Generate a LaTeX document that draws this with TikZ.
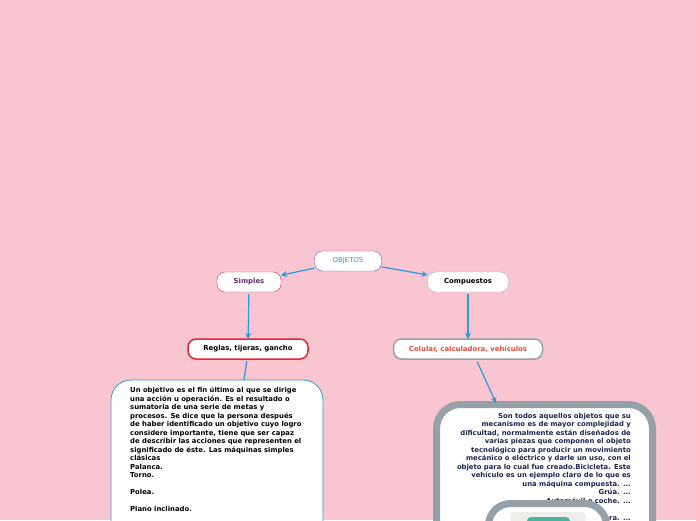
\documentclass[tikz,border=0pt]{standalone}
\usepackage{fontspec}
\setmainfont{DejaVu Sans}
\usepackage{xcolor}
\usetikzlibrary{positioning, arrows.meta}

\definecolor{bgpink}{RGB}{249,197,209}
\definecolor{linkblue}{RGB}{41,152,222}
\definecolor{objpurple}{RGB}{142,68,173}
\definecolor{objblue}{RGB}{52,152,219}
\definecolor{simpred}{RGB}{192,57,72}
\definecolor{simpurple}{RGB}{104,44,120}
\definecolor{compgray}{RGB}{165,174,182}
\definecolor{framegray}{RGB}{149,160,168}
\definecolor{reglared}{RGB}{232,35,50}
\definecolor{celred}{RGB}{231,76,60}
\definecolor{textnavy}{RGB}{28,38,80}
\definecolor{imggray}{RGB}{238,238,235}
\definecolor{imgteal}{RGB}{82,178,160}

\begin{document}
\begin{tikzpicture}[x=1pt, y=-1pt,
    topic/.style={draw, fill=white, rounded corners=8pt, minimum height=20pt, inner sep=0pt, outer sep=0pt,
        font=\fontsize{6.9}{8}\selectfont\bfseries},
    link/.style={draw=linkblue, line width=1.2pt, -{Stealth[length=6pt, width=6pt]}},
    textblock/.style={font=\fontsize{6.85}{8.5}\selectfont\bfseries, inner sep=0pt}
]
    % page
    \fill[bgpink] (0,0) rectangle (696,520);
    \clip (0,0) rectangle (696,520);

    % topics
    \node[topic, draw=objpurple, text=objblue, font=\fontsize{6.9}{8}\selectfont, minimum width=67pt] (objetos) at (348,261) {OBJETOS};
    \node[topic, draw=simpred, text=simpurple, minimum width=64pt] (simples) at (249,282) {Simples};
    \node[topic, draw=compgray, minimum width=81pt] (compuestos) at (468,282) {Compuestos};
    \node[topic, draw=reglared, line width=1.5pt, minimum width=120pt] (reglas) at (248,349) {Reglas, tijeras, gancho};
    \node[topic, draw=framegray, line width=1.5pt, text=celred, minimum width=149pt] (celular) at (468,349) {Celular, calculadora, vehículos};

    % Simples text box
    \node[draw=objblue, fill=white, line width=0.8pt, rounded corners=20pt, minimum width=212pt, minimum height=180pt,
        anchor=north west, outer sep=0pt] (simbox) at (111,380) {};
    \node[textblock, align=left, anchor=north west] (simtext) at (130,387) {Un objetivo es el fin último al que se dirige\\
        una acción u operación. Es el resultado o\\
        sumatoria de una serie de metas y\\
        procesos. Se dice que la persona después\\
        de haber identificado un objetivo cuyo logro\\
        considere importante, tiene que ser capaz\\
        de describir las acciones que representen el\\
        significado de éste. Las máquinas simples\\
        clásicas\\
        Palanca.\\
        Torno.\\[8.5pt]
        Polea.\\[8.5pt]
        Plano inclinado.};

    % Compuestos text box
    \node[draw=framegray, fill=white, line width=7pt, rounded corners=24pt, minimum width=216pt, minimum height=160pt,
        anchor=north west, outer sep=0pt] (compbox) at (436.5,404.5) {};
    \node[textblock, text=textnavy, align=right, anchor=north east] (comptext) at (631,413) {Son todos aquellos objetos que su\\
        mecanismo es de mayor complejidad y\\
        dificultad, normalmente están diseñados de\\
        varias piezas que componen el objeto\\
        tecnológico para producir un movimiento\\
        mecánico o eléctrico y darle un uso, con el\\
        objeto para lo cual fue creado.Bicicleta. Este\\
        vehículo es un ejemplo claro de lo que es\\
        una máquina compuesta. ...\\
        Grúa. ...\\
        Automóvil o coche. ...\\[8.5pt]
        Lavadora. ...};

    % picture inside the Compuestos box
    \node[draw=framegray, fill=white, line width=7pt, rounded corners=22pt, minimum width=118pt, minimum height=60pt,
        anchor=north west, outer sep=0pt] (imgframe) at (488.5,503.5) {};
    \node[fill=imggray, rounded corners=3pt, minimum width=74pt, minimum height=20pt, inner sep=0pt,
        anchor=north west, outer sep=0pt] (imgback) at (511,512) {};
    \node[fill=imgteal, rounded corners=4pt, minimum width=43pt, minimum height=10pt, inner sep=0pt,
        anchor=north west, outer sep=0pt] (imgbar) at (527,517) {};

    % connectors
    \coordinate (simin) at (244,380);
    \coordinate (compin) at (496,403);
    \draw[link] (objetos) -- (simples);
    \draw[link] (objetos) -- (compuestos);
    \draw[link, shorten <=2pt] (simples) -- (reglas);
    \draw[link, shorten <=2pt] (compuestos) -- (celular);
    \draw[draw=linkblue, line width=1.2pt, shorten <=2pt] ([xshift=-1pt]reglas.south) -- (simin);
    \draw[link, shorten <=3pt] ([xshift=8pt]celular.south) -- (compin);
\end{tikzpicture}
\end{document}
